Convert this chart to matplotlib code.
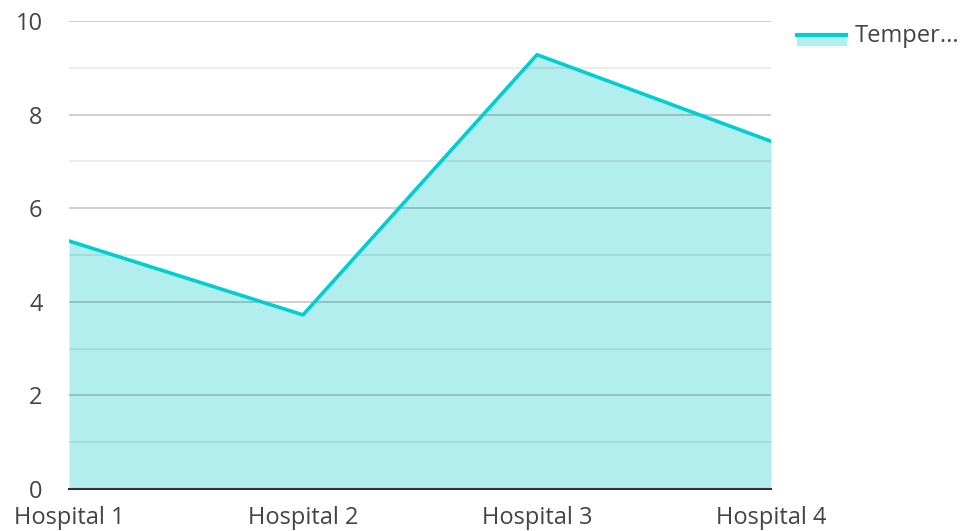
import numpy as np
import matplotlib.pyplot as plt

# chart data
categories = ["Hospital 1", "Hospital 2", "Hospital 3", "Hospital 4"]
temperature = [5.3, 3.72, 9.28, 7.43]
series_name = "Temper..."

line_color = "#00CED1"
fill_color = "#B2EEEE"

plt.rcParams['font.family'] = ['Open Sans', 'DejaVu Sans']

fig = plt.figure(figsize=(9.61, 5.31), dpi=100)
ax = fig.add_axes([69 / 961, 42 / 531, 702 / 961, 468 / 531])

x = np.arange(len(categories))
ax.fill_between(x, temperature, 0, color=fill_color, linewidth=0, zorder=1)
ax.plot(x, temperature, color=line_color, linewidth=2.6, zorder=3)

ax.set_xlim(0, len(categories) - 1)
ax.set_ylim(0, 10)
ax.set_xticks(x)
ax.set_xticklabels(categories)
ax.set_yticks(range(0, 11, 2))
ax.set_yticks(range(1, 10, 2), minor=True)

# grid: semi-transparent so it shows over the filled area
ax.grid(True, which='major', axis='y', color='black', alpha=0.22, linewidth=1.2, zorder=2)
ax.grid(True, which='minor', axis='y', color='black', alpha=0.09, linewidth=1.2, zorder=2)
ax.set_axisbelow(False)

for side in ['top', 'right', 'left']:
    ax.spines[side].set_visible(False)
ax.spines['bottom'].set_color('#333333')
ax.spines['bottom'].set_linewidth(1.5)
ax.spines['bottom'].set_zorder(4)

ax.tick_params(axis='both', which='both', length=0, labelsize=17, labelcolor='#444444')
ax.tick_params(axis='y', pad=19)
ax.tick_params(axis='x', pad=12)

# legend swatch drawn by hand in figure coords
lx0, lx1 = 797 / 961, 846 / 961
fig.patches.append(plt.Rectangle((lx0, 1 - 45 / 531), lx1 - lx0, 9 / 531,
                                 transform=fig.transFigure, color=fill_color))
fig.lines.append(plt.Line2D([lx0, lx1], [1 - 35 / 531, 1 - 35 / 531],
                            transform=fig.transFigure, color=line_color, linewidth=3))
fig.text(855 / 961, 1 - 36 / 531, series_name, fontsize=17, color='#444444',
         va='center', ha='left')

fig.savefig("out.png", dpi=100)
